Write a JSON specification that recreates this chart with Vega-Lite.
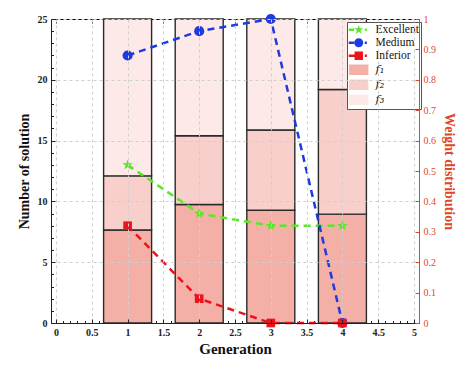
{
  "$schema": "https://vega.github.io/schema/vega-lite/v6.json",
  "width": 368,
  "height": 304,
  "autosize": {"type": "none"},
  "padding": {"left": 51, "top": 19, "right": 55, "bottom": 49},
  "background": "white",
  "config": {
    "view": {"stroke": "black", "strokeWidth": 1},
    "font": "Liberation Serif"
  },
  "datasets": {
    "bars": [
      {"gen": 1, "comp": "f₁", "w": 0.306},
      {"gen": 1, "comp": "f₂", "w": 0.178},
      {"gen": 1, "comp": "f₃", "w": 0.516},
      {"gen": 2, "comp": "f₁", "w": 0.390},
      {"gen": 2, "comp": "f₂", "w": 0.226},
      {"gen": 2, "comp": "f₃", "w": 0.384},
      {"gen": 3, "comp": "f₁", "w": 0.371},
      {"gen": 3, "comp": "f₂", "w": 0.264},
      {"gen": 3, "comp": "f₃", "w": 0.365},
      {"gen": 4, "comp": "f₁", "w": 0.358},
      {"gen": 4, "comp": "f₂", "w": 0.410},
      {"gen": 4, "comp": "f₃", "w": 0.232}
    ],
    "lines": [
      {"gen": 1, "series": "Excellent", "n": 13},
      {"gen": 2, "series": "Excellent", "n": 9},
      {"gen": 3, "series": "Excellent", "n": 8},
      {"gen": 4, "series": "Excellent", "n": 8},
      {"gen": 1, "series": "Medium", "n": 22},
      {"gen": 2, "series": "Medium", "n": 24},
      {"gen": 3, "series": "Medium", "n": 25},
      {"gen": 4, "series": "Medium", "n": 0},
      {"gen": 1, "series": "Inferior", "n": 8},
      {"gen": 2, "series": "Inferior", "n": 2},
      {"gen": 3, "series": "Inferior", "n": 0},
      {"gen": 4, "series": "Inferior", "n": 0}
    ]
  },
  "resolve": {
    "scale": {"y": "independent"},
    "axis": {"x": "independent", "y": "independent"}
  },
  "layer": [
    {
      "data": {"name": "bars"},
      "mark": {"type": "bar", "size": 48, "stroke": "#2a2a2a", "strokeWidth": 1.4},
      "encoding": {
        "x": {
          "field": "gen", "type": "quantitative",
          "scale": {"domain": [0, 5], "nice": false, "zero": false},
          "axis": {
            "orient": "bottom", "values": [0, 0.5, 1, 1.5, 2, 2.5, 3, 3.5, 4, 4.5, 5], "format": "~g",
            "title": "Generation", "grid": true, "gridDash": [3, 3], "gridColor": "#cfcfcf",
            "tickSize": -4, "labelPadding": 8, "tickColor": "#222", "domainColor": "#222",
            "labelFont": "Liberation Serif", "labelFontSize": 10, "labelFontWeight": "bold", "labelColor": "#222",
            "titleFont": "Liberation Serif", "titleFontSize": 15, "titleFontWeight": "bold", "titleColor": "#111",
            "titlePadding": 4, "zindex": 1
          }
        },
        "y": {
          "field": "w", "type": "quantitative", "stack": "zero",
          "scale": {"domain": [0, 1], "nice": false},
          "axis": {
            "orient": "right", "values": [0, 0.1, 0.2, 0.3, 0.4, 0.5, 0.6, 0.7, 0.8, 0.9, 1], "format": "~g",
            "title": "Weight distribution", "titleAngle": 90, "grid": false,
            "tickSize": -4, "labelPadding": 8,
            "domainColor": "#e2462a", "tickColor": "#e2462a", "labelColor": "#e2462a", "titleColor": "#e2462a",
            "labelFont": "Liberation Serif", "labelFontSize": 10,
            "titleFont": "Liberation Serif", "titleFontSize": 14, "titleFontWeight": "bold",
            "titlePadding": 6, "zindex": 1
          }
        },
        "color": {
          "field": "comp", "type": "nominal",
          "scale": {
            "domain": ["Excellent", "Medium", "Inferior", "f₁", "f₂", "f₃"],
            "range": ["#5ce62a", "#1f3be0", "#e8141e", "#f4b0a6", "#f9cfcb", "#fde9e7"]
          },
          "legend": {
            "title": null, "orient": "none", "legendX": 296, "legendY": 3,
            "strokeColor": "#555", "fillColor": "white", "padding": 2,
            "symbolSize": 144, "symbolOffset": 4, "labelOffset": 11, "rowPadding": 0,
            "labelFont": "Liberation Serif", "labelFontSize": 11.5, "labelColor": "#111",
            "encode": {
              "symbols": {"update": {
                "shape": {"signal": "datum.value == 'Excellent' ? 'M-1.67,-0.2H-0.75V0.2H-1.67Z M0,-0.85L0.191,-0.263L0.808,-0.263L0.309,0.1L0.5,0.688L0,0.325L-0.5,0.688L-0.309,0.1L-0.808,-0.263L-0.191,-0.263Z M1.0,-0.2H1.35V0.2H1.0Z' : datum.value == 'Medium' ? 'M-1.67,-0.2H-0.7V0.2H-1.67Z M-0.75,0A0.75,0.75 0 1,0 0.75,0A0.75,0.75 0 1,0 -0.75,0Z M1.0,-0.2H1.35V0.2H1.0Z' : datum.value == 'Inferior' ? 'M-1.67,-0.2H-0.7V0.2H-1.67Z M-0.7,-0.7H0.7V0.7H-0.7Z M1.0,-0.2H1.35V0.2H1.0Z' : 'M-1.5,-0.75H1.5V0.75H-1.5Z'"},
                "fill": {"signal": "scale('color', datum.value)"},
                "fillOpacity": {"value": 1},
                "opacity": {"value": 1},
                "stroke": {"signal": "indexof(['f₁','f₂','f₃'], datum.value) >= 0 ? '#222' : null"},
                "strokeWidth": {"signal": "indexof(['f₁','f₂','f₃'], datum.value) >= 0 ? 1.3 : 0"}
              }},
              "labels": {"update": {
                "fontStyle": {"signal": "indexof(['f₁','f₂','f₃'], datum.value) >= 0 ? 'italic' : 'normal'"},
                "font": {"signal": "indexof(['f₁','f₂','f₃'], datum.value) >= 0 ? 'DejaVu Serif' : 'Liberation Serif'"}
              }}
            }
          }
        },
        "order": {"field": "comp", "sort": "ascending"}
      }
    },
    {
      "data": {"name": "lines"},
      "mark": {"type": "line", "strokeDash": [7, 5], "strokeWidth": 2.5},
      "encoding": {
        "x": {
          "field": "gen", "type": "quantitative",
          "scale": {"domain": [0, 5], "nice": false, "zero": false},
          "axis": {
            "orient": "bottom",
            "values": [0.1, 0.2, 0.3, 0.4, 0.6, 0.7, 0.8, 0.9, 1.1, 1.2, 1.3, 1.4, 1.6, 1.7, 1.8, 1.9, 2.1, 2.2, 2.3, 2.4, 2.6, 2.7, 2.8, 2.9, 3.1, 3.2, 3.3, 3.4, 3.6, 3.7, 3.8, 3.9, 4.1, 4.2, 4.3, 4.4, 4.6, 4.7, 4.8, 4.9],
            "labels": false, "grid": false, "domain": false, "tickSize": -2.5, "tickColor": "#222", "title": null
          }
        },
        "y": {
          "field": "n", "type": "quantitative",
          "scale": {"domain": [0, 25], "nice": false},
          "axis": {
            "orient": "left", "values": [0, 5, 10, 15, 20, 25],
            "title": "Number of solution", "grid": true, "gridDash": [3, 3], "gridColor": "#cfcfcf",
            "tickSize": -4, "labelPadding": 8, "tickColor": "#222", "domainColor": "#222",
            "labelFont": "Liberation Serif", "labelFontSize": 10, "labelFontWeight": "bold", "labelColor": "#222",
            "titleFont": "Liberation Serif", "titleFontSize": 14, "titleFontWeight": "bold", "titleColor": "#111",
            "titlePadding": 6, "zindex": 1
          }
        },
        "color": {
          "field": "series", "type": "nominal",
          "scale": {
            "domain": ["Excellent", "Medium", "Inferior", "f₁", "f₂", "f₃"],
            "range": ["#5ce62a", "#1f3be0", "#e8141e", "#f4b0a6", "#f9cfcb", "#fde9e7"]
          },
          "legend": {
            "title": null, "orient": "none", "legendX": 296, "legendY": 3,
            "strokeColor": "#555", "fillColor": "white", "padding": 2,
            "symbolSize": 144, "symbolOffset": 4, "labelOffset": 11, "rowPadding": 0,
            "labelFont": "Liberation Serif", "labelFontSize": 11.5, "labelColor": "#111",
            "encode": {
              "symbols": {"update": {
                "shape": {"signal": "datum.value == 'Excellent' ? 'M-1.67,-0.2H-0.75V0.2H-1.67Z M0,-0.85L0.191,-0.263L0.808,-0.263L0.309,0.1L0.5,0.688L0,0.325L-0.5,0.688L-0.309,0.1L-0.808,-0.263L-0.191,-0.263Z M1.0,-0.2H1.35V0.2H1.0Z' : datum.value == 'Medium' ? 'M-1.67,-0.2H-0.7V0.2H-1.67Z M-0.75,0A0.75,0.75 0 1,0 0.75,0A0.75,0.75 0 1,0 -0.75,0Z M1.0,-0.2H1.35V0.2H1.0Z' : datum.value == 'Inferior' ? 'M-1.67,-0.2H-0.7V0.2H-1.67Z M-0.7,-0.7H0.7V0.7H-0.7Z M1.0,-0.2H1.35V0.2H1.0Z' : 'M-1.5,-0.75H1.5V0.75H-1.5Z'"},
                "fill": {"signal": "scale('color', datum.value)"},
                "fillOpacity": {"value": 1},
                "opacity": {"value": 1},
                "stroke": {"signal": "indexof(['f₁','f₂','f₃'], datum.value) >= 0 ? '#222' : null"},
                "strokeWidth": {"signal": "indexof(['f₁','f₂','f₃'], datum.value) >= 0 ? 1.3 : 0"}
              }},
              "labels": {"update": {
                "fontStyle": {"signal": "indexof(['f₁','f₂','f₃'], datum.value) >= 0 ? 'italic' : 'normal'"},
                "font": {"signal": "indexof(['f₁','f₂','f₃'], datum.value) >= 0 ? 'DejaVu Serif' : 'Liberation Serif'"}
              }}
            }
          }
        }
      }
    },
    {
      "data": {"name": "lines"},
      "mark": {"type": "point", "filled": true, "opacity": 1},
      "encoding": {
        "x": {
          "field": "gen", "type": "quantitative",
          "scale": {"domain": [0, 5], "nice": false, "zero": false},
          "axis": {
            "orient": "top", "values": [0, 0.5, 1, 1.5, 2, 2.5, 3, 3.5, 4, 4.5, 5],
            "labels": false, "grid": false, "domain": false, "tickSize": -4, "tickColor": "#222", "title": null
          }
        },
        "y": {
          "field": "n", "type": "quantitative",
          "scale": {"domain": [0, 25], "nice": false},
          "axis": {
            "orient": "left",
            "values": [1, 2, 3, 4, 6, 7, 8, 9, 11, 12, 13, 14, 16, 17, 18, 19, 21, 22, 23, 24],
            "labels": false, "grid": false, "domain": false, "tickSize": -2.5, "tickColor": "#222", "title": null
          }
        },
        "color": {
          "field": "series", "type": "nominal",
          "scale": {
            "domain": ["Excellent", "Medium", "Inferior", "f₁", "f₂", "f₃"],
            "range": ["#5ce62a", "#1f3be0", "#e8141e", "#f4b0a6", "#f9cfcb", "#fde9e7"]
          },
          "legend": null
        },
        "shape": {
          "field": "series", "type": "nominal",
          "scale": {
            "domain": ["Excellent", "Medium", "Inferior"],
            "range": ["M0,-1L0.2245,-0.309L0.951,-0.309L0.363,0.118L0.588,0.809L0,0.382L-0.588,0.809L-0.363,0.118L-0.951,-0.309L-0.2245,-0.309Z", "circle", "square"]
          },
          "legend": null
        },
        "size": {
          "field": "series", "type": "nominal",
          "scale": {"domain": ["Excellent", "Medium", "Inferior"], "range": [130, 75, 75]},
          "legend": null
        }
      }
    }
  ]
}
